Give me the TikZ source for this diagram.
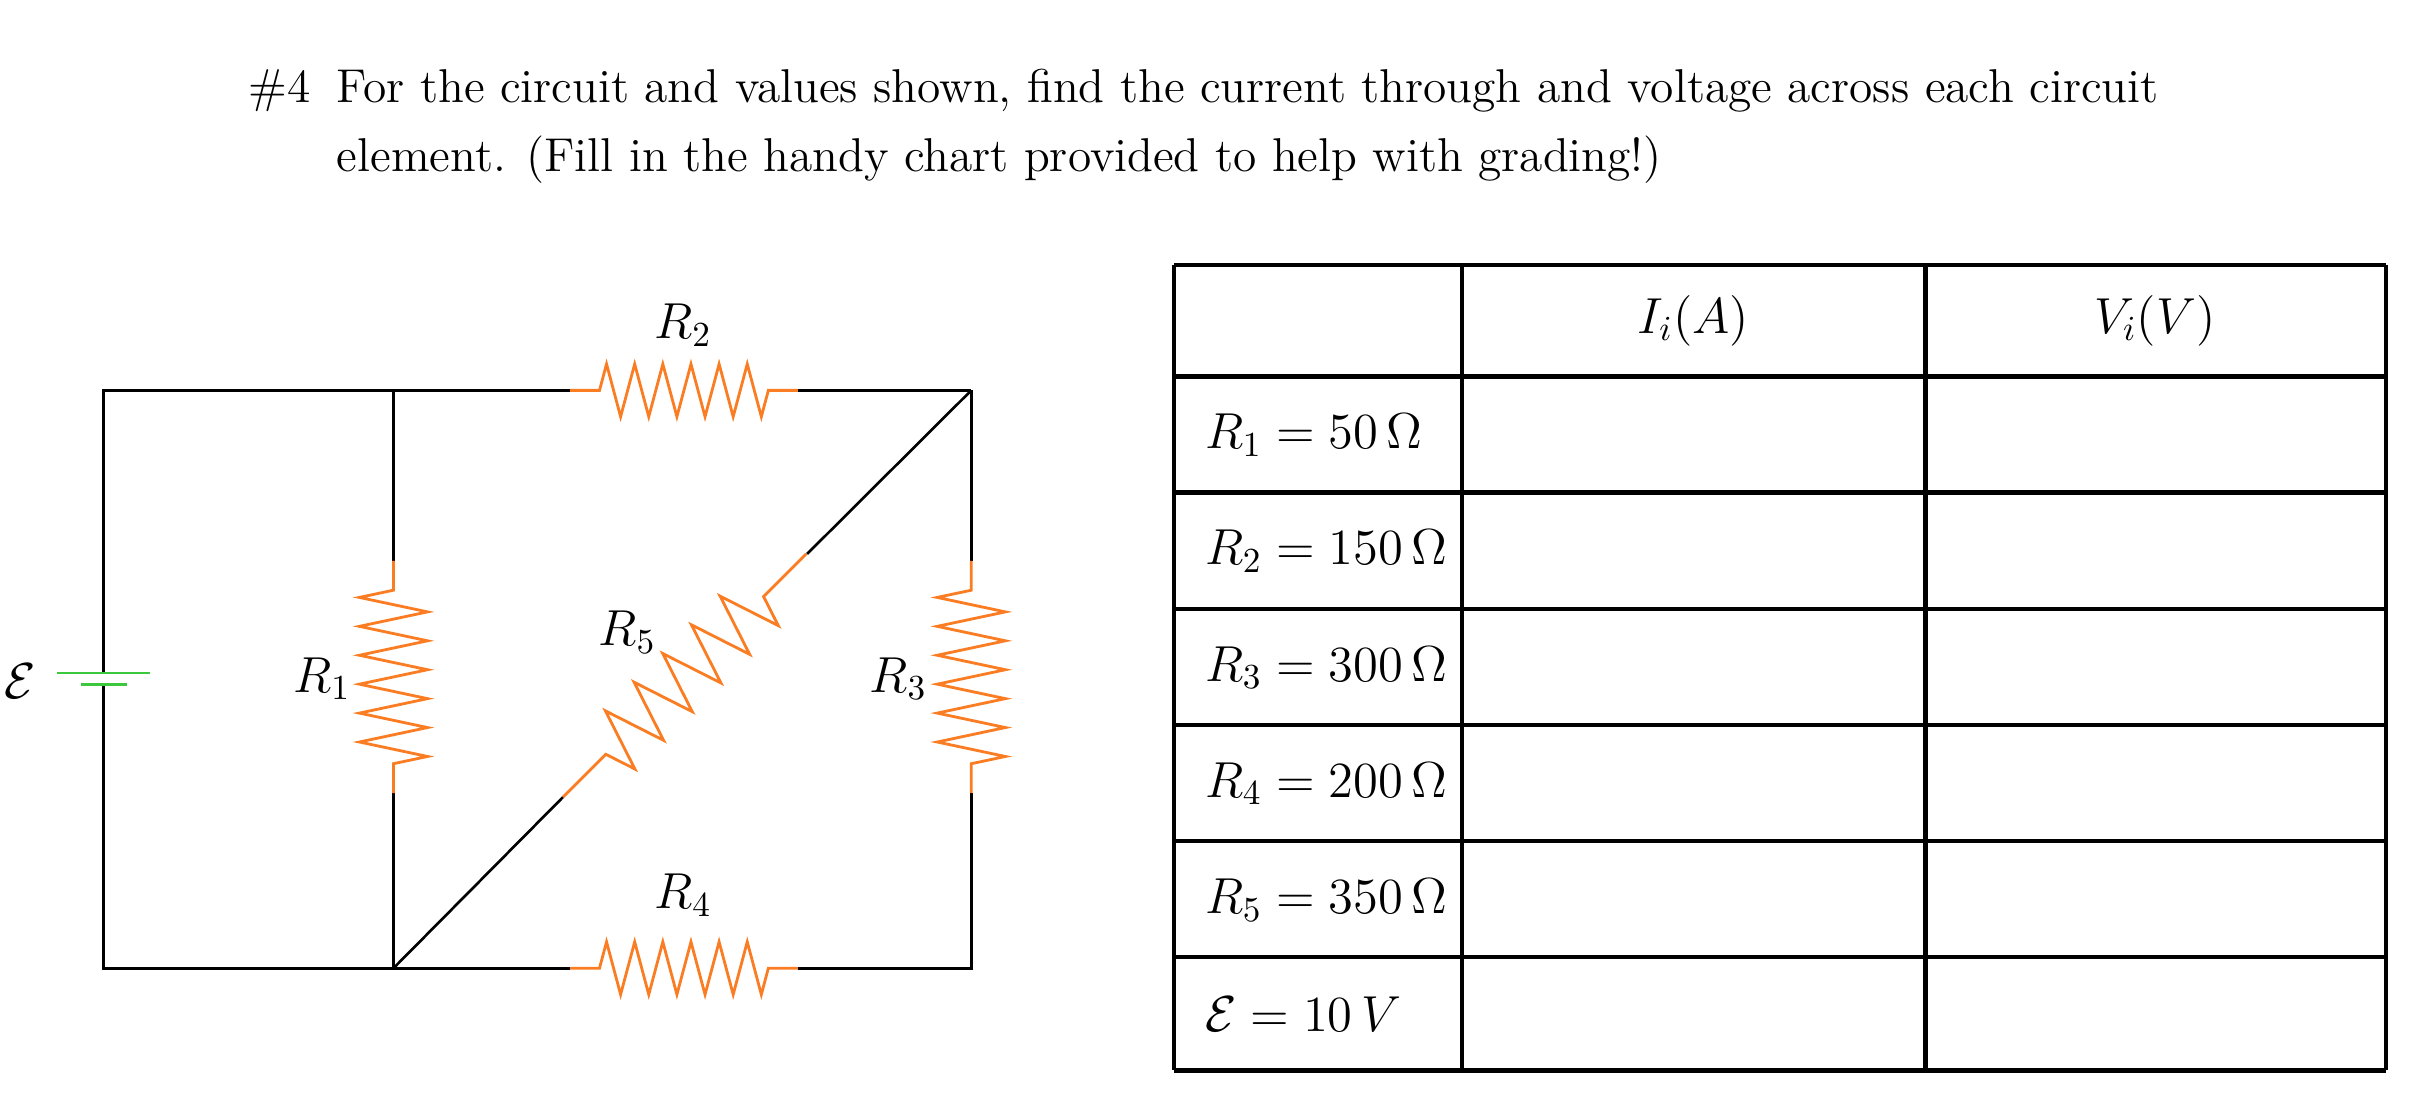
\documentclass[tikz,border=0pt]{standalone}
\usepackage{amsmath}
\begin{document}
\newcommand\zres[6]{%
\begin{scope}[shift={#1},rotate=#2]
\pgfmathsetmacro\zs{(#3-2*#4)/#5}
\draw[res] (0,0) -- (#4,0) -- ++(\zs/2,#6)
  \foreach \i in {2,...,#5}{ -- ++(\zs,{2*#6*(mod(\i,2)==0 ? -1 : 1)}) }
  -- ++(\zs/2,{#6*(mod(#5,2)==0 ? 1 : -1)}) -- (#3,0);
\end{scope}}
\begin{tikzpicture}[x=0.01549cm,y=-0.01549cm,
  wire/.style={line width=0.75pt,black},
  res/.style={line width=0.8pt,color={rgb,255:red,250;green,125;blue,35},line join=miter},
  bat/.style={line width=0.8pt,color={rgb,255:red,60;green,200;blue,60}},
  grid/.style={line width=1.2pt},
  every node/.style={font=\fontsize{13.7}{17}\selectfont}]
\useasboundingbox (0,0) rectangle (1568,714);
% title
\node[anchor=base west,inner sep=0,font=\fontsize{13.5}{17}\selectfont] (num) at (160,66) {\#4};
\node[anchor=base west,inner sep=0,font=\fontsize{13.5}{17}\selectfont] (l1) at (217,66) {For the circuit and values shown, find the current through and voltage across each circuit};
\node[anchor=base west,inner sep=0,font=\fontsize{13.5}{17}\selectfont] (l2) at (217,111) {element. (Fill in the handy chart provided to help with grading!)};
% circuit coordinates
\coordinate (A) at (67,252); \coordinate (B) at (254,252); \coordinate (C) at (627,252);
\coordinate (D) at (67,625); \coordinate (E) at (254,625); \coordinate (F) at (627,625);
\coordinate (bt) at (67,434.5); \coordinate (bb) at (67,442);
\draw[wire] (C) -- (515,252) (368,252) -- (B) -- (A) -- (bt);
\draw[wire] (bb) -- (D) -- (E) -- (368,625) (515,625) -- (F) -- (627,512) (627,362) -- (C);
\draw[wire] (B) -- (254,362) (254,512) -- (E);
\draw[wire] (E) -- (363.5,514.5) (521,357.6) -- (C);
\draw[bat] (37,434.5) -- (97,434.5) (52,442) -- (82,442);
\zres{(368,252)}{0}{147}{19}{12}{-17}
\zres{(368,625)}{0}{147}{19}{12}{-17}
\zres{(254,362)}{-90}{150}{19}{12}{22}
\zres{(627,362)}{-90}{150}{19}{12}{22}
\zres{(363.5,514.5)}{45}{222}{39}{11}{20}
\node (emf) at (13,440) {$\mathcal{E}$};
\node (r1) at (208,438) {$R_1$};
\node (r2) at (441,210) {$R_2$};
\node (r3) at (580,438) {$R_3$};
\node (r4) at (441,578) {$R_4$};
\node (r5) at (405,408) {$R_5$};
% table
\foreach \y in {171,243,318,393,468,543,618,691} \draw[grid] (758,\y) -- (1540,\y);
\foreach \x in {758,944,1243,1540} \draw[grid] (\x,171) -- (\x,691);
\node (hI) at (1093,207) {$I_i(A)$};
\node (hV) at (1391,207) {$V_i(V)$};
\node[anchor=west] (t1) at (770,281) {$R_1=50\,\Omega$};
\node[anchor=west] (t2) at (770,356) {$R_2=150\,\Omega$};
\node[anchor=west] (t3) at (770,431) {$R_3=300\,\Omega$};
\node[anchor=west] (t4) at (770,506) {$R_4=200\,\Omega$};
\node[anchor=west] (t5) at (770,581) {$R_5=350\,\Omega$};
\node[anchor=west] (t6) at (770,655) {$\mathcal{E}=10\,V$};
\end{tikzpicture}
\end{document}
